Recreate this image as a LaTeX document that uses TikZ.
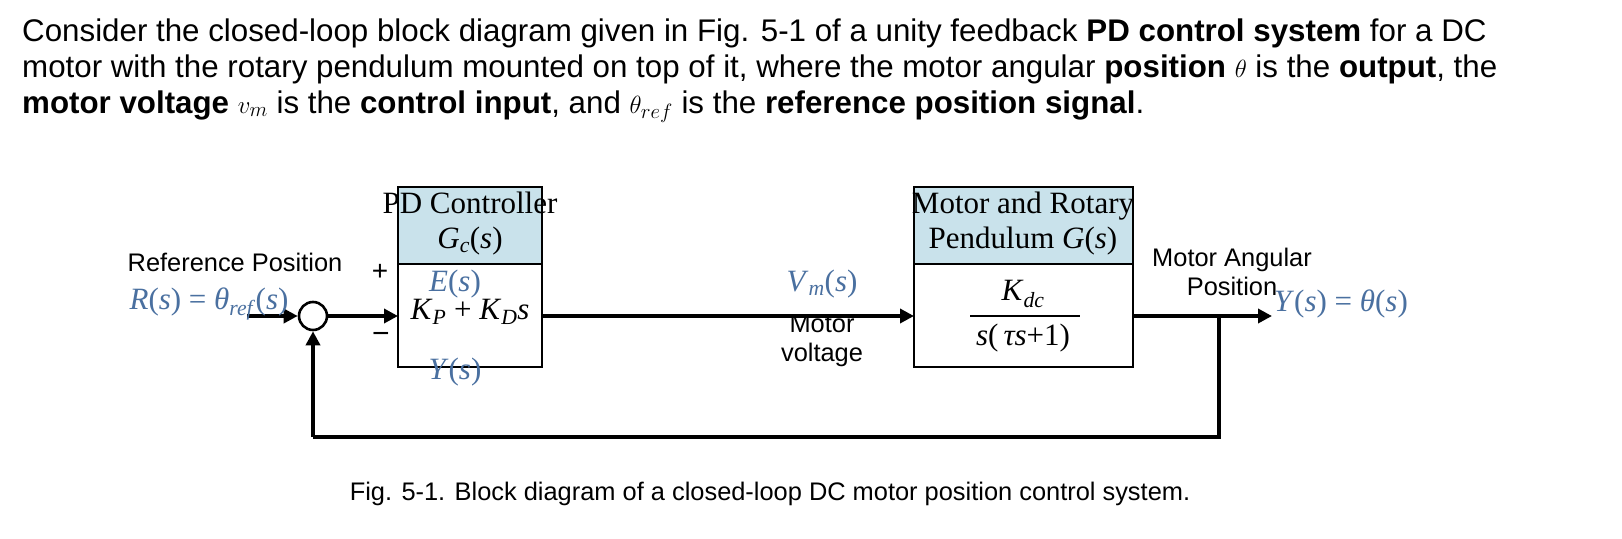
\documentclass[tikz,border=0pt]{standalone}
\usepackage{fontspec}
\setmainfont{Liberation Sans}
\newfontfamily\sr{Liberation Serif}
\usetikzlibrary{arrows.meta}
\definecolor{lb}{HTML}{C9E2EB}
\definecolor{bl}{HTML}{4A70A0}
\newcommand{\iv}[1]{\textit{#1}}
\begin{document}
\begin{tikzpicture}[x=1pt,y=-1pt,
  line/.style={line width=3.5pt},
  arr/.style={line width=3.5pt,-{Triangle[length=14pt,width=14pt]}},
  box/.style={line width=2.6pt},
  para/.style={anchor=base west,inner sep=0,font=\fontsize{31.3}{34}\selectfont},
  lab/.style={inner sep=0,font=\fontsize{25.4}{29}\selectfont},
  sl/.style={inner sep=0,font=\sr\fontsize{31}{34}\selectfont,text=bl},
  tf/.style={inner sep=0,font=\sr\fontsize{31}{34}\selectfont},
  hd/.style={inner sep=0,font=\sr\fontsize{31}{35}\selectfont,align=center}]
\useasboundingbox (0,0) rectangle (1622,538);
\fill[white] (0,0) rectangle (1622,538);
\node[para] (p1) at (22,41) {Consider the closed-loop block diagram given in Fig. 5-1 of a unity feedback \textbf{PD control system} for a DC};
\node[para] (p2) at (22,77) {motor with the rotary pendulum mounted on top of it, where the motor angular \textbf{position} $\theta$ is the \textbf{output}, the};
\node[para] (p3) at (22,113) {\textbf{motor voltage} $v_m$ is the \textbf{control input}, and $\theta_{ref}$ is the \textbf{reference position signal}.};
% blocks
\fill[lb] (398,187) rectangle (542,264);
\draw[box] (398,187) rectangle (542,367);
\draw[box] (398,264) -- (542,264);
\fill[lb] (914,187) rectangle (1133,264);
\draw[box] (914,187) rectangle (1133,367);
\draw[box] (914,264) -- (1133,264);
\node[hd] (h1) at (470,224) {PD Controller\\\iv{G}\textsubscript{\iv{c}}(\iv{s})};
\node[hd] (h2) at (1023,224) {Motor and Rotary\\Pendulum \iv{G}(\iv{s})};
\node[tf] (kp) at (470,312) {\iv{K}\textsubscript{\iv{P}} + \iv{K}\textsubscript{\iv{D}}\iv{s}};
\node[tf] (kd) at (1023,294) {\iv{K}\textsubscript{\iv{dc}}};
\node[tf] (kn) at (1023,338) {\iv{s}(\,\iv{τs}+1)};
\draw[line width=1.2pt] (970,316) -- (1080,316);
\coordinate (pdw) at (398,316); \coordinate (pde) at (542,316);
\coordinate (gw) at (914,316); \coordinate (ge) at (1133,316);
% sum
\node[circle,draw,line width=2.6pt,minimum size=28pt,inner sep=0] (sum) at (313,316) {};
\coordinate (in) at (247,316);
\coordinate (br) at (1219,316);
\coordinate (out) at (1272,316);
\coordinate (fb1) at (1219,437);
\coordinate (fb2) at (313,437);
\draw[arr] (in) -- (sum.west);
\draw[arr] (sum.east) -- (pdw);
\draw[arr] (pde) -- (gw);
\draw[arr] (ge) -- (out);
\draw[line] (br) -- (fb1) -- (fb2);
\draw[arr] (fb2) -- (sum.south);
% labels
\node[lab] (rp) at (235,262) {Reference Position};
\node[sl] (r) at (209,304) {\iv{R}(\iv{s}) = \iv{θ}\textsubscript{\iv{ref}}(\iv{s})};
\node[lab,font=\fontsize{28}{28}\selectfont] (pl) at (380,272) {+};
\node[lab,font=\fontsize{30}{28}\selectfont] (mi) at (381,338) {−};
\node[sl] (e) at (455,284) {\iv{E}(\iv{s})};
\node[sl] (y) at (455,372) {\iv{Y}(\iv{s})};
\node[sl] (vm) at (822,284) {\iv{V}\textsubscript{\iv{m}}(\iv{s})};
\node[lab,align=center] (mv) at (822,341) {Motor\\voltage};
\node[lab,align=center] (ma) at (1232,272) {Motor Angular\\Position};
\node[sl,anchor=west] (yo) at (1274,304) {\iv{Y}(\iv{s}) = \iv{θ}(\iv{s})};
\node[lab] (cap) at (770,494) {Fig. 5-1. Block diagram of a closed-loop DC motor position control system.};
\end{tikzpicture}
\end{document}
